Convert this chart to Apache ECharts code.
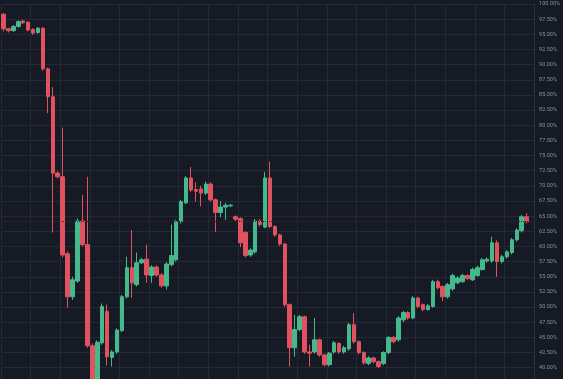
<!DOCTYPE html>
<html>
<head>
<meta charset="utf-8">
<script src="https://cdn.jsdelivr.net/npm/echarts@6/dist/echarts.min.js"></script>
<style>
html,body{margin:0;padding:0;background:#161a25;overflow:hidden;width:563px;height:379px;}
#c{width:563px;height:401px;}
</style>
</head>
<body>
<div id="c"></div>
<script>
var categories = [];
for (var k = 1; k <= 108; k++) categories.push(String(k));

var opens = [98.3,95.9,95.6,96.3,97.2,97.0,95.8,95.3,96.0,89.3,
84.7,72.1,71.5,58.8,51.7,54.3,64.2,60.3,43.6,37.0,
44.1,49.3,41.7,42.6,46.1,51.7,56.5,53.7,57.3,57.9,
55.2,56.6,55.3,53.5,57.0,57.8,64.1,67.2,71.3,69.4,
69.5,68.8,70.3,67.7,65.6,66.5,66.7,64.9,64.6,62.3,
58.6,59.1,64.2,63.2,71.3,63.3,61.9,60.4,50.4,43.3,
46.3,48.4,42.6,42.6,44.6,42.1,40.5,42.6,44.0,42.6,
43.1,47.1,44.3,42.5,40.7,41.6,41.0,40.7,42.5,45.0,
44.6,47.9,49.1,48.2,51.5,50.4,49.6,50.1,54.2,53.4,
51.7,53.0,54.0,54.2,55.2,54.5,55.2,56.2,57.6,57.6,
60.6,57.5,58.3,59.0,61.1,62.6,64.9];
var closes = [95.9,95.6,96.3,97.1,96.9,95.7,95.2,96.0,89.3,84.7,
72.1,71.5,58.6,51.7,54.5,64.2,60.3,43.6,36.8,44.2,
50.1,41.8,42.6,46.2,51.7,56.5,54.0,57.3,57.8,55.3,
56.6,55.3,53.5,57.1,58.5,64.1,67.4,71.3,69.3,69.1,
68.8,70.3,67.7,65.6,66.5,66.8,66.8,64.5,60.6,58.5,
59.4,64.2,63.6,71.3,63.3,61.9,60.4,50.4,43.3,46.3,
48.4,42.6,42.4,44.6,42.1,40.5,42.4,44.1,42.6,43.3,
47.1,44.3,42.5,40.8,41.6,41.0,40.2,42.5,45.0,44.3,
48.2,49.1,48.2,51.5,50.1,49.6,50.2,54.2,53.2,51.7,
53.7,55.2,54.8,55.2,54.7,56.2,56.5,57.8,57.9,60.6,
57.5,58.3,59.1,61.1,62.7,64.9,64.1];
var lows = [95.5,95.3,95.4,96.1,96.7,95.5,94.9,95.1,89.0,82.0,
62.3,71.2,58.2,49.9,51.2,54.0,60.0,43.3,36.0,36.5,
43.8,40.4,40.2,42.3,45.9,51.4,51.5,53.4,57.1,54.0,
54.0,55.0,53.2,52.9,56.7,57.5,63.8,67.0,69.0,67.4,
66.6,68.5,67.4,62.4,64.8,64.4,66.5,64.2,59.9,58.2,
58.3,58.8,63.3,63.0,63.0,61.6,60.1,50.0,40.2,41.8,
46.0,42.3,40.2,42.3,41.8,40.2,40.2,42.3,42.3,42.3,
42.8,44.0,42.2,40.5,40.4,40.7,39.9,40.4,42.2,44.0,
44.3,47.5,47.9,48.0,49.8,49.3,49.4,49.9,52.9,51.0,
51.4,52.7,53.8,54.0,54.5,54.3,55.0,56.0,57.3,57.3,
55.0,57.2,58.0,58.7,60.8,62.3,63.8];
var highs = [98.5,96.1,96.5,97.3,97.4,97.2,96.0,96.2,96.2,89.5,
86.3,72.4,79.6,59.2,55.0,64.6,68.5,71.5,44.0,44.5,
50.6,50.4,42.9,46.5,52.0,58.3,62.7,59.0,58.1,60.3,
56.9,56.9,55.6,57.4,63.6,64.4,67.7,71.6,73.1,70.6,
70.0,70.7,70.6,67.9,67.5,67.2,67.0,65.1,64.8,62.5,
59.7,64.5,64.5,72.3,74.0,63.5,62.1,60.6,50.6,48.7,
48.7,48.6,43.8,48.2,44.8,42.3,42.6,44.4,44.2,43.6,
47.4,49.0,44.5,42.7,41.9,41.8,41.2,42.7,45.2,45.2,
48.5,49.4,49.3,51.8,51.7,50.6,50.5,54.5,54.5,53.6,
54.0,55.5,55.1,55.5,55.4,56.5,56.8,58.1,58.2,61.6,
61.0,58.6,59.4,61.4,63.0,65.2,65.5];

var data = opens.map(function (o, i) { return [o, closes[i], lows[i], highs[i]]; });
while (data.length < categories.length) data.push('-');
var lastClose = closes[closes.length - 1];

var chart = echarts.init(document.getElementById('c'), null, {renderer: 'canvas'});
chart.setOption({
  backgroundColor: '#161a25',
  animation: false,
  grid: {left: 1, right: 26, top: 4, bottom: 0, containLabel: false},
  xAxis: {
    type: 'category',
    data: categories,
    boundaryGap: true,
    axisLine: {show: false},
    axisTick: {show: false},
    axisLabel: {show: false},
    splitLine: {
      show: true,
      interval: function (index) { return index % 6 === 0; },
      lineStyle: {color: '#232835', width: 1}
    }
  },
  yAxis: {
    type: 'value',
    position: 'right',
    min: 35,
    max: 100,
    interval: 2.5,
    axisLine: {show: true, lineStyle: {color: '#2a2f3b'}},
    axisTick: {show: false},
    axisLabel: {
      color: '#8a8f9b',
      fontSize: 5.5,
      fontFamily: 'Roboto, sans-serif',
      margin: 5,
      showMinLabel: true,
      showMaxLabel: true,
      formatter: function (v) { return v.toFixed(2) + '%'; }
    },
    splitLine: {show: true, lineStyle: {color: '#242935', width: 1}}
  },
  series: [{
    type: 'candlestick',
    data: data,
    barWidth: '82%',
    itemStyle: {
      color: '#45b98c',
      color0: '#e0525f',
      borderColor: '#45b98c',
      borderColor0: '#e0525f',
      borderWidth: 1
    },
    markLine: {
      silent: true,
      symbol: ['none', 'none'],
      label: {show: false},
      lineStyle: {color: '#3d2430', type: 'dotted', width: 1},
      data: [{yAxis: lastClose}]
    }
  }]
});
</script>
</body>
</html>
